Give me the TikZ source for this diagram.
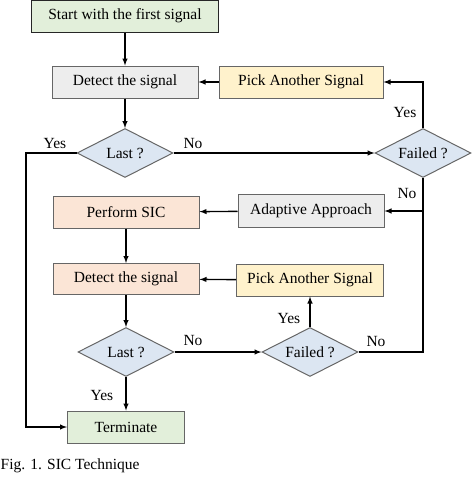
\documentclass[tikz,border=0pt]{standalone}
\usepackage{fontspec}
\setmainfont{Liberation Serif}
\usetikzlibrary{shapes.geometric}
\definecolor{startgreen}{HTML}{E2EFDA}
\definecolor{detgray}{HTML}{EDEDED}
\definecolor{pickyellow}{HTML}{FFF2CC}
\definecolor{askblue}{HTML}{DCE6F2}
\definecolor{sicpeach}{HTML}{FBE5D6}
\tikzset{
  stepbox/.style={draw=black!60,line width=1pt,minimum height=32pt,inner sep=0pt,
    font=\fontsize{15.5}{18}\selectfont},
  askbox/.style={diamond,aspect=2,draw=black!60,line width=1pt,fill=askblue,
    minimum width=96pt,minimum height=49pt,inner sep=0pt,font=\fontsize{15.5}{18}\selectfont},
  answer/.style={inner sep=1pt,font=\fontsize{15.5}{18}\selectfont},
}
\begin{document}
\begin{tikzpicture}[x=1pt,y=-1pt,>=latex,line width=1.4pt]
  \useasboundingbox (0,0) rectangle (474,479);
  % boxes
  \node[stepbox,fill=startgreen,draw=black!85,minimum width=187pt] (start) at (125,16)
    {Start with the first signal};
  \node[stepbox,fill=detgray,minimum width=146pt] (det1) at (125,82) {Detect the signal};
  \node[stepbox,fill=pickyellow,minimum width=164pt] (pick1) at (301,82) {Pick Another Signal};
  \node[askbox] (last1) at (125,153) {Last ?};
  \node[askbox] (fail1) at (423,153) {Failed ?};
  \node[stepbox,fill=detgray,minimum width=146pt,minimum height=33pt] (adapt) at (311,211)
    {Adaptive Approach};
  \node[stepbox,fill=sicpeach,minimum width=146pt] (sic) at (126,212) {Perform SIC};
  \node[stepbox,fill=sicpeach,minimum width=146pt,minimum height=31pt] (det2) at (126,279)
    {Detect the signal};
  \node[stepbox,fill=pickyellow,minimum width=147pt] (pick2) at (310,280) {Pick Another Signal};
  \node[askbox] (last2) at (126,352) {Last ?};
  \node[askbox] (fail2) at (310,352) {Failed ?};
  \node[stepbox,fill=startgreen,minimum width=117pt] (term) at (126,427) {Terminate};
  \coordinate (yesturn) at (26,153);
  % connectors
  \draw[->] (start) -- (det1);
  \draw[->] (det1) -- (last1);
  \draw[->] (last1) -- (fail1);
  \draw[->] (fail1.north) |- (pick1.east);
  \draw[->] (pick1) -- (det1);
  \draw[->] (fail1.south) |- (adapt.east);
  \draw (fail2.east) -| (fail1.south);
  \draw[->] (adapt) -- (sic);
  \draw[->] (sic) -- (det2);
  \draw[->] (pick2) -- (det2);
  \draw[->] (det2) -- (last2);
  \draw[->] (last2) -- (fail2);
  \draw[->] (fail2) -- (pick2);
  \draw[->] (last2) -- (term);
  \draw[->] (last1.west) -- (yesturn) |- (term.west);
  % answers
  \node[answer] (yes1) at (55,143) {Yes};
  \node[answer] (no1) at (193,143) {No};
  \node[answer] (yes2) at (405,112) {Yes};
  \node[answer] (no2) at (407,193) {No};
  \node[answer] (no3) at (193,340) {No};
  \node[answer] (yes3) at (289,318) {Yes};
  \node[answer] (no4) at (376,341) {No};
  \node[answer] (yes4) at (102,395) {Yes};
  % caption
  \node[anchor=west,inner sep=0pt,font=\fontsize{15.5}{18}\selectfont] (caption) at (0,466)
    {Fig. 1. SIC Technique};
\end{tikzpicture}
\end{document}
